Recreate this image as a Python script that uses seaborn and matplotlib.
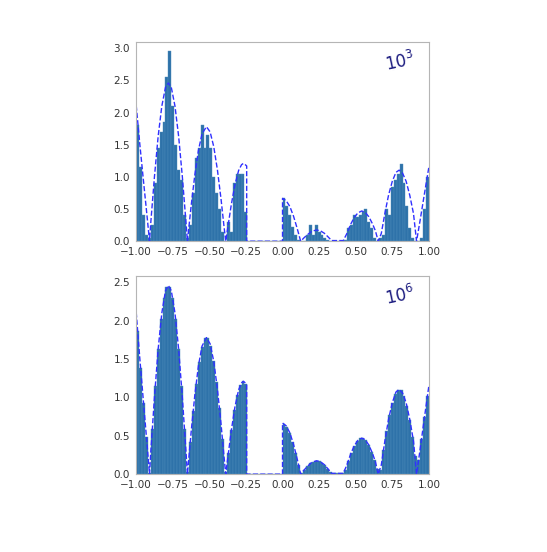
import numpy as np
import pandas as pd
import seaborn as sns
import matplotlib.pyplot as plt

# histogram bar heights (density), 100 bins of width 0.02 on [-1, 1]
top_heights = [1.80, 1.15, 0.40, 0.10, 0.05, 0.25, 0.90, 1.45, 1.70, 1.85,
               2.55, 2.95, 2.10, 1.50, 1.10, 0.95, 0.40, 0.05, 0.25, 0.75,
               1.30, 1.45, 1.80, 1.45, 1.65, 1.45, 1.00, 0.75, 0.50, 0.15,
               0.0, 0.30, 0.15, 0.90, 1.05, 1.05, 1.05, 0.45,
               0, 0, 0, 0, 0, 0, 0, 0, 0, 0, 0, 0,
               0.67, 0.55, 0.40, 0.22, 0.10, 0.02, 0.0, 0.0, 0.10, 0.25,
               0.10, 0.25, 0.15, 0.10, 0.05, 0.02, 0.0, 0.0, 0.0, 0.0,
               0.0, 0.02, 0.20, 0.25, 0.40, 0.38, 0.40, 0.45, 0.50, 0.30,
               0.20, 0.05, 0.0, 0.05, 0.10, 0.50, 0.40, 0.85, 0.95, 1.05,
               1.20, 0.90, 0.55, 0.20, 0.05, 0.0, 0.0, 0.05, 0.50, 1.00]
bottom_heights = [1.87, 1.39, 0.93, 0.48, 0.02, 0.59, 1.15, 1.63, 2.02, 2.30,
                  2.44, 2.44, 2.30, 2.02, 1.63, 1.15, 0.59, 0.03, 0.42, 0.82,
                  1.17, 1.46, 1.66, 1.77, 1.77, 1.67, 1.48, 1.20, 0.86, 0.46,
                  0.03, 0.28, 0.57, 0.83, 1.03, 1.16, 1.21, 1.17,
                  0, 0, 0, 0, 0, 0, 0, 0, 0, 0, 0, 0,
                  0.66, 0.62, 0.54, 0.42, 0.28, 0.12, 0.01, 0.06, 0.10, 0.14,
                  0.165, 0.175, 0.17, 0.15, 0.116, 0.07, 0.023, 0.01, 0.01, 0.01,
                  0.01, 0.06, 0.17, 0.28, 0.37, 0.43, 0.465, 0.465, 0.44, 0.38,
                  0.29, 0.185, 0.07, 0.05, 0.31, 0.56, 0.77, 0.93, 1.05, 1.10,
                  1.10, 1.02, 0.89, 0.71, 0.49, 0.24, 0.18, 0.46, 0.74, 1.02]

# theoretical density curve (dashed)
curve_x = [-1.0, -0.975, -0.95, -0.925, -0.909,
           -0.9, -0.875, -0.85, -0.825, -0.8, -0.78, -0.76, -0.735, -0.71, -0.685, -0.66, -0.65,
           -0.625, -0.6, -0.575, -0.55, -0.52, -0.495, -0.47, -0.445, -0.42, -0.4, -0.388,
           -0.375, -0.35, -0.325, -0.3, -0.28, -0.267, -0.255, -0.245, -0.245,
           0.0, 0.0, 0.025, 0.05, 0.075, 0.1, 0.124,
           0.15, 0.175, 0.2, 0.233, 0.26, 0.285, 0.31, 0.336, 0.36, 0.39, 0.415,
           0.44, 0.465, 0.49, 0.515, 0.541, 0.565, 0.59, 0.615, 0.635, 0.654,
           0.675, 0.7, 0.725, 0.75, 0.775, 0.797, 0.82, 0.845, 0.87, 0.895, 0.916,
           0.94, 0.97, 1.0]
curve_y = [2.11, 1.50, 0.93, 0.37, 0.0,
           0.30, 1.01, 1.63, 2.10, 2.39, 2.46, 2.39, 2.10, 1.63, 1.01, 0.30, 0.0,
           0.54, 1.02, 1.41, 1.67, 1.78, 1.70, 1.47, 1.11, 0.65, 0.23, 0.0,
           0.20, 0.57, 0.88, 1.10, 1.19, 1.21, 1.19, 1.17, 0.0,
           0.0, 0.667, 0.63, 0.54, 0.39, 0.20, 0.0,
           0.06, 0.11, 0.155, 0.175, 0.16, 0.125, 0.07, 0.01, 0.01, 0.01, 0.01,
           0.12, 0.26, 0.37, 0.44, 0.47, 0.45, 0.38, 0.27, 0.16, 0.0,
           0.12, 0.44, 0.72, 0.93, 1.07, 1.105, 1.06, 0.93, 0.71, 0.43, 0.0,
           0.32, 0.74, 1.15]

labels = ['$10^3$', '$10^6$']
x_ticks = [-1.0, -0.75, -0.5, -0.25, 0.0, 0.25, 0.5, 0.75, 1.0]

n_bins = len(top_heights)
centers = -1 + (np.arange(n_bins) + 0.5) * 2 / n_bins

sns.set_style('white')
fig = plt.figure(figsize=(5.47, 5.52), dpi=100)
ax_top = fig.add_axes([0.249, 0.563, 0.535, 0.361])
ax_bot = fig.add_axes([0.249, 0.141, 0.535, 0.359])

for ax, heights, label in zip([ax_top, ax_bot], [top_heights, bottom_heights], labels):
    df = pd.DataFrame({'x': centers, 'h': heights})
    sns.histplot(data=df, x='x', weights='h', bins=n_bins, binrange=(-1, 1),
                 stat='count', color='#2e72a9', alpha=1, edgecolor='#4d8cbc',
                 linewidth=0.3, ax=ax)
    sns.lineplot(x=curve_x, y=curve_y, estimator=None, sort=False,
                 color='#3030ff', linestyle='--', linewidth=1.0, ax=ax)
    ax.set_xlim(-1, 1)
    ax.set_xticks(x_ticks)
    ax.set_xlabel('')
    ax.set_ylabel('')
    ax.tick_params(labelsize=7.5, colors='#333333', pad=1)
    for s in ax.spines.values():
        s.set_color('#b5b5b5')
        s.set_linewidth(0.8)
    ax.text(0.9, 0.9, label, transform=ax.transAxes, color='#1c1c80',
            fontsize=12, rotation=12, ha='center', va='center')

ax_top.set_yticks([0, 0.5, 1.0, 1.5, 2.0, 2.5, 3.0])
ax_bot.set_yticks([0, 0.5, 1.0, 1.5, 2.0, 2.5])

fig.savefig('out.png', dpi=100)
